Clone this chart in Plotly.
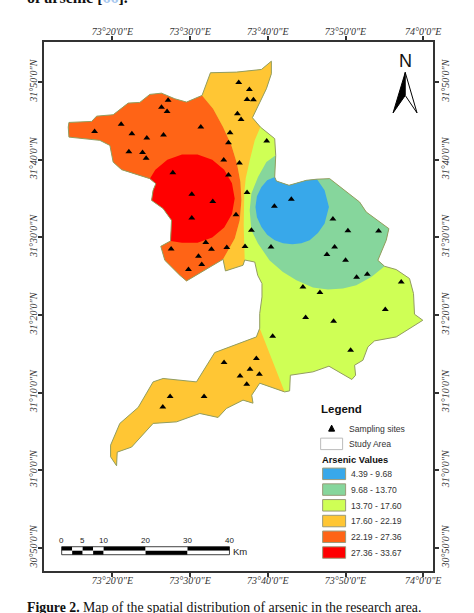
import plotly.graph_objects as go

# Coordinates: arc-minutes east of 73 deg (lon) and north of 30 deg (lat)
SEG_NW = [(14.41,104.81),(17.33,104.94),(17.97,105.62),(20.10,105.80),(22.03,107.30),(23.53,107.39),
          (24.82,108.42),(26.32,108.58),(28.03,107.86),(29.54,107.43),(31.54,108.29)]
SEG_TOP = [(31.54,108.29),(32.11,109.79),(32.62,111.21),(35.96,111.29),(39.18,111.63),(40.46,112.70),
           (40.46,111.08),(39.82,109.15),(38.02,105.42),(39.05,104.21)]
SEG_E1 = [(39.05,104.21),(40.89,102.72),(41.02,100.57)]
SEG_E2 = [(41.02,100.57),(40.89,97.77)]
SEG_E3 = [(40.89,97.77),(41.11,97.26),(42.73,96.71),(44.96,97.35),(46.33,97.50)]
SEG_E4 = [(46.33,97.50),(47.96,97.57),(51.81,94.56),(52.67,93.27),(55.58,91.13),(55.24,89.63),
          (54.16,87.05),(55.03,86.28)]
SEG_E5 = [(55.03,86.28),(56.53,85.86),(58.24,84.70),(58.75,82.77),(58.88,80.10),(59.95,79.33),
          (56.53,77.18),(53.74,76.67),(52.88,75.89),(52.24,74.18),(51.17,73.54),(51.30,72.25),
          (50.82,71.70),(49.02,72.68),(47.87,73.41),(45.81,72.68),(42.90,72.25),(42.81,70.23),(42.17,70.10)]
SEG_LOW = [(42.17,70.10),(38.96,71.22),(37.93,69.68),(38.10,68.65),(36.81,69.04),(34.68,67.97),
           (33.60,66.81),(31.25,67.32),(28.25,66.24),(25.24,66.04),(22.47,62.99),(20.62,62.34),
           (20.54,60.58),(19.77,61.74),(19.77,63.24),(20.96,66.04),(23.32,68.10),(25.24,71.39),
           (26.53,71.83),(30.82,71.39),(33.17,75.17),(38.53,77.18),(38.96,78.30)]
SEG_HOLE = [(38.96,78.30),(38.96,80.19),(39.25,82.33),(39.25,84.05),(38.70,85.12),(38.32,86.83),(37.03,87.09)]
SEG_S1 = [(37.03,87.09),(36.81,86.41),(34.55,85.68),(34.24,87.18)]
SEG_S2 = [(34.24,87.18),(29.54,84.39),(28.68,85.12),(26.75,87.05),(26.23,88.85),(27.48,89.54)]
SEG_RW = [(27.48,89.54),(27.61,92.20),(26.53,93.71),(25.04,94.77),(25.24,96.06),(25.59,96.92),(24.82,97.57)]
SEG_W = [(24.82,97.57),(21.18,98.73),(20.10,99.70),(19.68,101.85),(18.39,102.50),(14.41,102.92),(14.32,104.21),(14.41,104.81)]

ARC_ORANGE = [(31.54,108.29),(32.96,106.58),(34.24,104.21),(35.32,101.85),(36.04,99.50),(36.48,97.13),
              (36.61,94.77),(36.39,92.20),(35.75,89.85),(34.24,87.18)]
ARC_YELLOW = [(39.05,104.21),(38.32,102.50),(37.67,99.92),(37.16,97.61),(36.97,95.68),(36.90,93.49),
              (36.90,91.56),(36.97,88.98),(37.03,87.09)]
ARC_TEAL = [(41.02,100.57),(39.82,99.70),(38.74,97.77),(37.89,95.64),(37.67,93.49),(37.89,90.91),
            (38.74,89.20),(40.24,87.03),(41.95,85.55),(43.68,84.48),(45.81,83.54),(47.74,83.28),
            (49.67,83.41),(51.39,83.84),(53.32,84.90),(55.03,86.28)]
ARC_BLUE = [(46.33,97.50),(47.31,96.06),(47.87,93.91),(47.31,91.78),(46.45,90.57),(45.39,89.63),(44.32,89.24),
            (43.16,89.11),(41.95,89.24),(40.89,89.63),(39.92,90.33),(39.18,91.34),(38.60,92.59),(38.41,93.91),
            (38.60,95.29),(39.18,96.49),(39.92,97.35),(40.89,97.77)]
ARC_RED = [(24.82,97.57),(25.53,98.72),(27.07,100.00),(28.96,100.69),(30.96,100.69),(32.85,100.00),(34.39,98.72),
           (35.39,96.98),(35.74,95.00),(35.39,93.02),(34.39,91.28),(32.85,90.00),(30.96,89.31),(28.96,89.31),(27.48,89.54)]
LOWER_JOIN = [(38.96,78.30),(42.17,70.10)]

SITES_LON = [36.26,37.63,37.33,38.15,27.17,26.32,27.04,36.09,36.56,21.13,17.71,31.38,22.51,24.43,26.58,35.14,34.94,
             39.86,22.12,23.88,24.34,34.33,36.35,27.78,34.94,37.33,30.22,32.92,35.91,30.22,37.89,32.02,37.07,34.72,
             40.41,32.75,27.56,31.08,31.50,29.79,40.85,43.03,48.38,50.31,54.26,48.60,47.61,50.01,51.43,52.80,57.17,
             44.52,46.71,44.87,48.47,55.12,40.63,50.66,34.37,38.53,37.71,38.92,36.43,37.29,27.43,31.80,26.49]
SITES_LAT = [109.96,109.06,107.77,107.73,107.68,106.78,106.23,105.93,105.20,104.56,103.65,104.21,103.36,102.79,103.18,
             103.49,102.20,102.41,101.04,100.95,100.18,99.96,99.58,98.34,98.03,95.80,95.55,94.61,92.93,92.50,90.91,
             89.33,88.82,88.69,88.76,88.47,88.51,87.57,86.50,85.86,94.00,94.90,92.37,90.87,90.82,88.76,87.79,87.05,
             84.87,85.25,84.26,83.62,82.90,79.68,79.20,80.71,77.27,75.47,73.89,74.40,73.02,72.38,72.16,71.09,69.51,
             69.51,68.17]

CLASS_LABELS = ["4.39 - 9.68","9.68 - 13.70","13.70 - 17.60","17.60 - 22.19","22.19 - 27.36","27.36 - 33.67"]
CLASS_COLORS = ["#38a8ea","#86d69c","#cfff55","#ffc634","#ff6416","#ff0000"]
LON_TICKS = [20,30,40,50,60]
LON_LABELS = ["73°20'0\"E","73°30'0\"E","73°40'0\"E","73°50'0\"E","74°0'0\"E"]
LAT_TICKS = [110,100,90,80,70,60,50]
LAT_LABELS = ["31°50'0\"N","31°40'0\"N","31°30'0\"N","31°20'0\"N","31°10'0\"N","31°0'0\"N","30°50'0\"N"]
SCALE_KM = [0,5,10,20,30,40]

# Layout helpers: page pixels -> paper fractions
L,R,T,B = 44.0,433.5,41.5,571.0
def X(p): return (p-L)/(R-L)
def Y(p): return (B-p)/(B-T)

fig = go.Figure()
def poly(points,color):
    fig.add_trace(go.Scatter(x=[p[0] for p in points],y=[p[1] for p in points],mode="lines",fill="toself",
                             fillcolor=color,line=dict(width=0,color=color),hoverinfo="skip"))

outline = SEG_NW+SEG_TOP+SEG_E1+SEG_E2+SEG_E3+SEG_E4+SEG_E5+SEG_LOW+SEG_HOLE+SEG_S1+SEG_S2+SEG_RW+SEG_W
poly(outline,CLASS_COLORS[2])
poly(SEG_TOP+ARC_YELLOW+SEG_S1+ARC_ORANGE[::-1],CLASS_COLORS[3])
poly(SEG_LOW+LOWER_JOIN,CLASS_COLORS[3])
poly(SEG_NW+ARC_ORANGE+SEG_S2+SEG_RW+SEG_W,CLASS_COLORS[4])
poly(ARC_RED+SEG_RW,CLASS_COLORS[5])
poly(SEG_E2+SEG_E3+SEG_E4+ARC_TEAL[::-1],CLASS_COLORS[1])
poly(SEG_E3+ARC_BLUE,CLASS_COLORS[0])
fig.add_trace(go.Scatter(x=[p[0] for p in outline],y=[p[1] for p in outline],mode="lines",
                         line=dict(width=1,color="#939c62"),hoverinfo="skip"))
fig.add_trace(go.Scatter(x=SITES_LON,y=SITES_LAT,mode="markers",
                         marker=dict(symbol="triangle-up",size=6,color="black"),name="Sampling sites"))
fig.add_trace(go.Scatter(x=[LON_TICKS[0]],y=[LAT_TICKS[0]],xaxis="x2",yaxis="y2",mode="markers",
                         marker=dict(opacity=0),hoverinfo="skip"))

tickfont = dict(family="Liberation Serif",size=10,style="italic",color="#333")
xr,yr = [11.2,61.26],[47.03,115.17]
xcommon = dict(range=xr,tickvals=LON_TICKS,ticktext=LON_LABELS,ticks="outside",ticklen=4,tickwidth=1.5,tickcolor="#333",
               showgrid=False,zeroline=False,showline=True,linecolor="#333",linewidth=1.5,tickfont=tickfont,tickangle=0)
ycommon = dict(range=yr,tickvals=LAT_TICKS,ticktext=LAT_LABELS,ticks="outside",ticklen=4,tickwidth=1.5,tickcolor="#333",
               showgrid=False,zeroline=False,showline=True,linecolor="#333",linewidth=1.5,tickfont=tickfont,tickangle=-90)

shapes=[]
def rect(x0,y0,x1,y1,fill,line=None,lw=1):
    shapes.append(dict(type="rect",xref="paper",yref="paper",x0=X(x0),x1=X(x1),y0=Y(y0),y1=Y(y1),
                       fillcolor=fill,line=dict(color=line or fill,width=lw if line else 0)))
def path(pts,fill,line=None,lw=1):
    d="M"+" L".join(f"{X(a):.5f},{Y(b):.5f}" for a,b in pts)+" Z"
    shapes.append(dict(type="path",xref="paper",yref="paper",path=d,fillcolor=fill,line=dict(color=line or fill,width=lw)))

ann=[]
def text(x,y,s,size,anchor="left",family="Liberation Sans",color="#222"):
    ann.append(dict(xref="paper",yref="paper",x=X(x),y=Y(y),text=s,showarrow=False,xanchor=anchor,yanchor="middle",
                    font=dict(family=family,size=size,color=color),align="left",borderpad=0))

# Legend
text(320.5,409,"<b>Legend</b>",11.5,color="#111")
path([(332,425),(335,431),(329,431)],"black")
text(348,428.5,"Sampling sites",8.6,color="#333")
rect(321,438,343,449.5,"white","#bbbbbb",1)
text(348,444,"Study Area",8.6,color="#333")
text(321,460,"<b>Arsenic Values</b>",9.3,color="#111")
for i,(lab,c) in enumerate(zip(CLASS_LABELS,CLASS_COLORS)):
    top = 468+i*15.75
    rect(323,top,346,top+11.5,c,"#9a9a7a",1)
    text(350,top+6,lab,8.6,color="#333")

# Scale bar
x0km,pxkm = 61.7,4.2
edges = [0,2.5,5,7.5,10,20,30,40]
for i in range(len(edges)-1):
    a,b = x0km+edges[i]*pxkm, x0km+edges[i+1]*pxkm
    rect(a,546.7,b,550.7,"black" if i%2==0 else "white")
    rect(a,550.7,b,554.7,"white" if i%2==0 else "black")
rect(x0km,546.7,x0km+40*pxkm,554.7,"rgba(0,0,0,0)","#111",0.8)
for k in SCALE_KM:
    text(x0km+k*pxkm,540.7,str(k),8,anchor="center",color="#222")
text(232,551.5,"Km",9.5,color="#222")

# North arrow
path([(405.7,72),(393.5,112.5),(405.7,95)],"black","black",1)
path([(405.7,72),(417.5,112.5),(405.7,95)],"white","black",1)
text(405.7,61,"N",18,anchor="center",color="#111")

# Page texts
text(26,607.5,"<b>Figure 2.</b> Map of the spatial distribution of arsenic in the research area.",13.8,family="Liberation Serif",color="#111")
text(26,-3,"<b>of arsenic [</b><b style='color:#a8c8ee'>66</b><b>].</b>",16,family="Liberation Serif",color="#111")

fig.update_layout(width=474,height=613,margin=dict(l=L,r=474-R,t=T,b=613-B),paper_bgcolor="white",plot_bgcolor="white",
    showlegend=False,shapes=shapes,annotations=ann,
    xaxis=dict(side="bottom",anchor="y",ticklabelstandoff=-5,**xcommon),yaxis=dict(side="left",anchor="x",ticklabelstandoff=-3,**ycommon),
    xaxis2=dict(side="top",overlaying="x",anchor="y",ticklabelstandoff=-3,**xcommon),yaxis2=dict(side="right",overlaying="y",anchor="x",ticklabelstandoff=-2,**ycommon))
fig.write_html("out.html",config=dict(displayModeBar=False),post_script="document.body.style.margin='0';document.documentElement.style.overflow='hidden';")
